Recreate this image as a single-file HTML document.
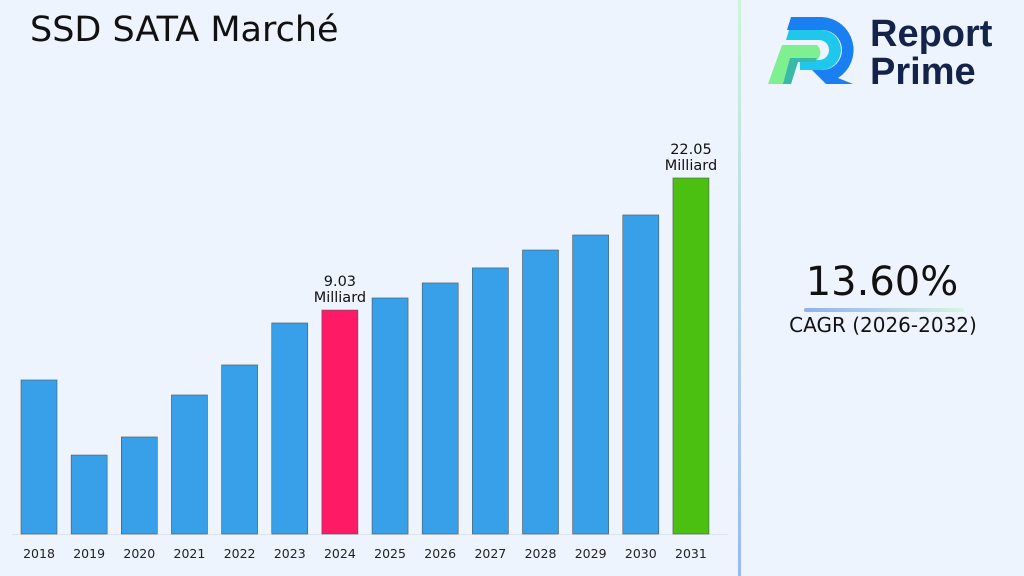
<!DOCTYPE html>
<html><head><meta charset="utf-8"><style>
html,body{margin:0;padding:0;width:1024px;height:576px;overflow:hidden;background:#eef4fd;font-family:"DejaVu Sans","Liberation Sans",sans-serif;}
</style></head><body>
<svg id="c" width="1024" height="576" viewBox="0 0 1024 576" xmlns="http://www.w3.org/2000/svg">
<defs>
<linearGradient id="dv" x1="0" y1="0" x2="0" y2="1"><stop offset="0" stop-color="#cdf5d8"/><stop offset="1" stop-color="#9ab8f5"/></linearGradient>
<linearGradient id="ul" x1="0" y1="0" x2="1" y2="0"><stop offset="0" stop-color="#8fb0f0"/><stop offset="1" stop-color="#d8f5e0"/></linearGradient>
</defs>
<text x="30" y="41" font-size="35" fill="#111">SSD SATA Marché</text>
<rect x="738" y="0" width="3" height="576" fill="url(#dv)"/>
<g>
<path d="M791 17 H822 A33 33 0 0 1 838 78 L853 84 H826 L812 70 H822 A20 20 0 0 0 822 30 H787 Z" fill="#1a7ff0"/>
<path d="M789 30 H821 A20 20 0 0 1 821 70 H800 V60 H819 A10 10 0 0 0 819 40 H786 Z" fill="#1fc8ea"/>
<path d="M782 45 H817 A10 10 0 0 1 817 60 H798 L791 84 H768 Z" fill="#7ef08f"/>
<path d="M790 58 H817 L815 62 H798 L791 84 H783 Z" fill="#3ab8a8"/>
<text x="870" y="46" font-size="38" font-weight="900" fill="#13234a" font-family="Liberation Sans, sans-serif">Report</text>
<text x="870" y="84" font-size="38" font-weight="900" fill="#13234a" font-family="Liberation Sans, sans-serif">Prime</text>
</g>
<text x="882" y="295" font-size="40" text-anchor="middle" fill="#111">13.60%</text>
<rect x="804" y="308" width="160" height="4" rx="2" fill="url(#ul)"/>
<text x="883" y="332" font-size="20" text-anchor="middle" fill="#111">CAGR (2026-2032)</text>
<line x1="12" y1="534.5" x2="728" y2="534.5" stroke="#dde3ea"/>
<g id="bars"></g>
</svg>
<script>
const years=["2018","2019","2020","2021","2022","2023","2024","2025","2026","2027","2028","2029","2030","2031"];
const values=[9.54,4.89,6.01,8.61,10.47,13.07,13.87,14.62,15.55,16.48,17.59,18.52,19.76,22.05];
const labels=["","","","","","","9.03","","","","","","","22.05"];
const colors=["#38a0e8","#38a0e8","#38a0e8","#38a0e8","#38a0e8","#38a0e8","#ff1a66","#38a0e8","#38a0e8","#38a0e8","#38a0e8","#38a0e8","#38a0e8","#4cc011"];
const NS="http://www.w3.org/2000/svg";
const base=534,maxV=22.05,maxH=356;
const y=v=>base-v/maxV*maxH;
const x=i=>21+i*50.15;
const g=document.getElementById('bars');
years.forEach((yr,i)=>{
  const r=document.createElementNS(NS,'rect');
  r.setAttribute('x',x(i));r.setAttribute('y',y(values[i]));
  r.setAttribute('width',36);r.setAttribute('height',base-y(values[i]));
  r.setAttribute('fill',colors[i]);r.setAttribute('stroke','#4a5560');r.setAttribute('stroke-width','0.6');
  
  
  g.appendChild(r);
  const t=document.createElementNS(NS,'text');
  t.setAttribute('x',x(i)+18);t.setAttribute('y',558);t.setAttribute('font-size','12.5');
  t.setAttribute('text-anchor','middle');t.setAttribute('fill','#222');t.textContent=yr;
  
  
  g.appendChild(t);
  if(labels[i]){
    const l=document.createElementNS(NS,'text');
    l.setAttribute('x',x(i)+18);l.setAttribute('y',y(values[i])-24);l.setAttribute('font-size','14.5');
    l.setAttribute('text-anchor','middle');l.setAttribute('fill','#111');l.textContent=labels[i];
    
    
    g.appendChild(l);
    const m=document.createElementNS(NS,'text');
    m.setAttribute('x',x(i)+18);m.setAttribute('y',y(values[i])-8);m.setAttribute('font-size','14.5');
    m.setAttribute('text-anchor','middle');m.setAttribute('fill','#111');m.textContent='Milliard';
    
    
    g.appendChild(m);
  }
});
</script>
</body></html>
